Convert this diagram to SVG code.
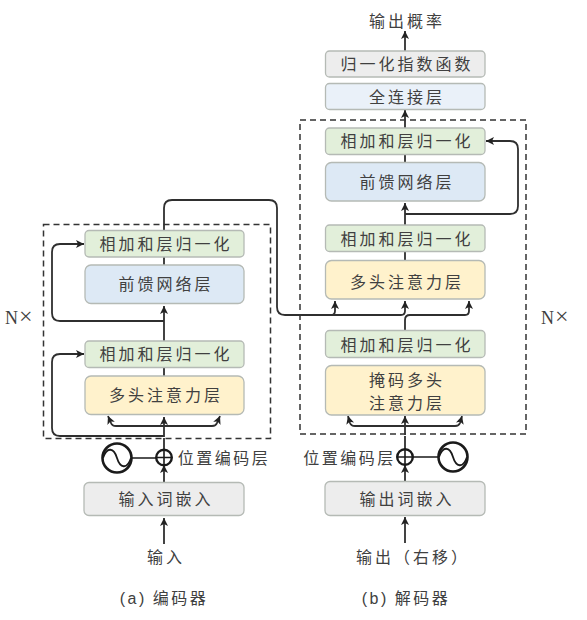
<svg xmlns="http://www.w3.org/2000/svg" width="587" height="620" viewBox="0 0 587 620">
<style>
text{font-family:"Noto Sans CJK SC","Liberation Serif",serif;font-size:16px;fill:#404040;text-anchor:middle;letter-spacing:3px}
.b{stroke-width:1.3;stroke:#b5bab5}
.g{fill:#e2efda}.bl{fill:#dde9f5}.y{fill:#fff2cc}.gr{fill:#ededed}.lb{fill:#eaf1f9}
.c{fill:none;stroke:#2f2f2f;stroke-width:1.8}
.d{fill:none;stroke:#333;stroke-width:1.5;stroke-dasharray:6 4}
.k{fill:none;stroke:#1a1a1a}
.n{font-family:"Liberation Serif",serif;font-size:18px;letter-spacing:1px;text-anchor:start}
.p{font-size:16px;letter-spacing:2.500px}
</style>
<defs>
<marker id="a" markerUnits="userSpaceOnUse" markerWidth="10" markerHeight="10" refX="8" refY="4" orient="auto"><path d="M0 0L8 4L0 8L2 4Z" fill="#222"/></marker>
</defs>
<rect width="587" height="620" fill="#fff"/>
<g id="connectors">
<path class="c" d="M164 437V417" marker-end="url(#a)"/>
<path class="c" d="M164 376V367M164 341V306" marker-end="url(#a)"/>
<path class="c" d="M164 265V257M164 230V208Q164 200 172 200H269Q277 200 277 208V307Q277 315 285 315H331Q335 315 335 311V301" marker-end="url(#a)"/>
<path class="c" d="M164 321H60Q52 321 52 313V252Q52 244 60 244H84" marker-end="url(#a)"/>
<path class="c" d="M164 436H60Q52 436 52 428V362Q52 354 60 354H84" marker-end="url(#a)"/>
<path class="c" d="M164 426H116Q112 426 111 423L108 416" marker-end="url(#a)"/>
<path class="c" d="M164 426H212Q216 426 217 423L220 416" marker-end="url(#a)"/>
<path class="c" d="M164 482V465" marker-end="url(#a)"/>
<path class="c" d="M164 544V518" marker-end="url(#a)"/>
<path class="c" d="M330 315H401Q405 315 405 311V301" marker-end="url(#a)"/>
<path class="c" d="M405 330V320Q405 315 410 315H465Q469 315 469 311V301" marker-end="url(#a)"/>
<path class="c" d="M405 260V251M405 225V203" marker-end="url(#a)"/>
<path class="c" d="M405 214H510Q518 214 518 206V149Q518 141 510 141H486" marker-end="url(#a)"/>
<path class="c" d="M405 162V154M405 128V110" marker-end="url(#a)"/>
<path class="c" d="M405 51V31" marker-end="url(#a)"/>
<path class="c" d="M405 435V416" marker-end="url(#a)"/>
<path class="c" d="M405 426H355Q351 426 350 423L348 416" marker-end="url(#a)"/>
<path class="c" d="M405 426H455Q459 426 460 423L462 416" marker-end="url(#a)"/>
<path class="c" d="M405 481V465" marker-end="url(#a)"/>
<path class="c" d="M405 543V517" marker-end="url(#a)"/>
<path class="c" d="M164 450V438M405 450V436"/>
<path class="k" stroke-width="1.5" d="M131 458H156M413 457H438"/>
</g>
<g id="encoder-frame"><rect class="d" x="43.5" y="224.5" width="227" height="214"/></g>
<g id="decoder-frame"><rect class="d" x="300" y="120" width="226" height="314"/></g>
<g id="enc-add2"><rect class="b g" x="85" y="230.500" width="159" height="26.500" rx="4"/><text x="166" y="249.500">相加和层归一化</text></g>
<g id="enc-ff"><rect class="b bl" x="85" y="265" width="159" height="38.500" rx="6"/><text x="166" y="290">前馈网络层</text></g>
<g id="enc-add1"><rect class="b g" x="85" y="341" width="159" height="26.500" rx="4"/><text x="166" y="360">相加和层归一化</text></g>
<g id="enc-attn"><rect class="b y" x="85" y="376" width="159" height="38.500" rx="6"/><text x="166" y="401">多头注意力层</text></g>
<g id="enc-embed"><rect class="b gr" x="84" y="482.500" width="160" height="33" rx="5"/><text x="166" y="505">输入词嵌入</text></g>
<g id="enc-sine"><circle class="k" stroke-width="2.600" cx="117" cy="458" r="14.500"/><path class="k" stroke-width="1.800" d="M103 458C107 446 114 448 117 458S127 470 131 458"/></g>
<g id="enc-plus"><circle class="k" stroke-width="2.400" cx="164" cy="457.500" r="7.800"/><path class="k" stroke-width="1.600" d="M156 457.500H172M164 450V465"/></g>
<g id="dec-softmax"><rect class="b gr" x="325.500" y="51" width="159.500" height="26" rx="4"/><text x="407" y="70">归一化指数函数</text></g>
<g id="dec-linear"><rect class="b lb" x="325.500" y="83.500" width="159.500" height="26" rx="4"/><text x="407" y="102.500">全连接层</text></g>
<g id="dec-add3"><rect class="b g" x="325.500" y="128" width="159.500" height="26.500" rx="4"/><text x="407" y="147">相加和层归一化</text></g>
<g id="dec-ff"><rect class="b bl" x="325.500" y="162.500" width="159.500" height="38.500" rx="6"/><text x="407" y="187.500">前馈网络层</text></g>
<g id="dec-add2"><rect class="b g" x="325.500" y="225" width="159.500" height="26.500" rx="4"/><text x="407" y="244.500">相加和层归一化</text></g>
<g id="dec-attn"><rect class="b y" x="325.500" y="260.500" width="159.500" height="38.500" rx="6"/><text x="407" y="287.500">多头注意力层</text></g>
<g id="dec-add1"><rect class="b g" x="325.500" y="330.500" width="159.500" height="27" rx="4"/><text x="407" y="350.500">相加和层归一化</text></g>
<g id="dec-mask"><rect class="b y" x="325.500" y="365.500" width="159.500" height="49.500" rx="6"/><text x="407" y="386">掩码多头</text><text x="407" y="409">注意力层</text></g>
<g id="dec-embed"><rect class="b gr" x="325" y="481.500" width="160" height="34" rx="5"/><text x="407" y="505">输出词嵌入</text></g>
<g id="dec-plus"><circle class="k" stroke-width="2.400" cx="405" cy="457" r="7.800"/><path class="k" stroke-width="1.600" d="M397 457H413M405 449.500V464.500"/></g>
<g id="dec-sine"><circle class="k" stroke-width="2.600" cx="453" cy="457" r="14.500"/><path class="k" stroke-width="1.800" d="M439 457C443 445 450 447 453 457S463 469 467 457"/></g>
<g id="labels">
<text x="407" y="27">输出概率</text>
<text class="n" x="5" y="324">N<tspan font-size="24">×</tspan></text>
<text class="n" x="541" y="324">N<tspan font-size="24">×</tspan></text>
<text class="p" x="224" y="464">位置编码层</text>
<text class="p" x="349.500" y="464">位置编码层</text>
<text x="166" y="563">输入</text>
<text x="413" y="563">输出（右移）</text>
<text class="p" x="164" y="604"><tspan style="font-family:'Liberation Sans',sans-serif">(a)</tspan> 编码器</text>
<text class="p" x="406" y="604"><tspan style="font-family:'Liberation Sans',sans-serif">(b)</tspan> 解码器</text>
</g>
</svg>
